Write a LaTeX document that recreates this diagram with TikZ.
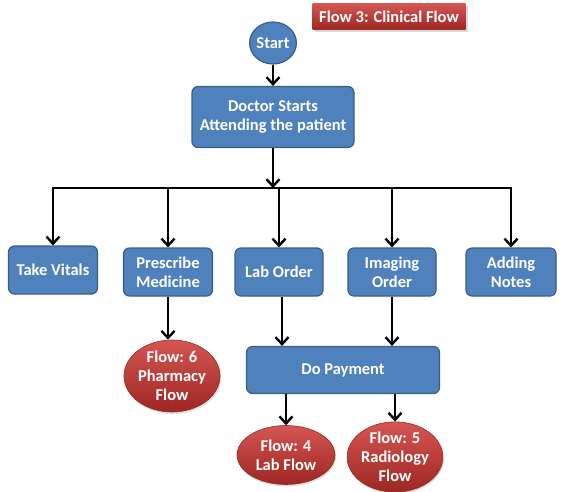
\documentclass[tikz,border=0pt]{standalone}
\usepackage{fontspec}
\setmainfont{Carlito}
\usetikzlibrary{arrows.meta,shapes.geometric,shadows}
\definecolor{taskblue}{RGB}{79,129,189}
\definecolor{taskline}{RGB}{56,93,138}
\definecolor{flowtop}{RGB}{212,86,82}
\definecolor{flowbot}{RGB}{158,38,35}
\definecolor{flowline}{RGB}{150,45,42}

\begin{document}
\begin{tikzpicture}[x=1pt,y=-1pt,
    every node/.style={font=\bfseries\fontsize{16.5}{19}\selectfont,text=white,align=center},
    taskbox/.style={draw=taskline,line width=1.2pt,fill=taskblue,rounded corners=6pt,inner sep=0pt},
    flowoval/.style={ellipse,draw=flowline,line width=0.6pt,top color=flowtop,bottom color=flowbot,
                     inner sep=0pt,drop shadow={opacity=0.25,shadow xshift=1pt,shadow yshift=-2pt}},
    arr/.style={line width=2.7pt,-{Straight Barb[length=7pt,width=13pt,line width=2.4pt]}}]
  \useasboundingbox (0,0) rectangle (565,492);

  % title ----------------------------------------------------------------------
  \node[top color=flowtop,bottom color=flowbot,minimum width=153pt,minimum height=26pt,inner sep=0pt,
        drop shadow={opacity=0.3,shadow xshift=2pt,shadow yshift=-2pt}]
        (title) at (389,17) {Flow 3: Clinical Flow};

  % start and doctor -----------------------------------------------------------
  \node[ellipse,draw=taskline,line width=1.2pt,fill=taskblue,minimum width=46pt,minimum height=42pt,inner sep=0pt]
        (start) at (273,43) {Start};
  \node[taskbox,minimum width=162pt,minimum height=61pt] (doc) at (273,117)
        {Doctor Starts\\Attending the patient};

  %----------------------------------------------------------------------------%
  %  the five tasks  -----------------------------------------------------------%
  \node[taskbox,minimum width=89pt,minimum height=48pt] (vit) at (53,270) {Take Vitals};
  \node[taskbox,minimum width=89pt,minimum height=48pt] (med) at (168,272) {Prescribe\\Medicine};
  \node[taskbox,minimum width=88pt,minimum height=48pt] (lab) at (279,272) {Lab Order};
  \node[taskbox,minimum width=88pt,minimum height=48pt] (img) at (392,272) {Imaging\\Order};
  \node[taskbox,minimum width=90pt,minimum height=48pt] (note) at (511,272) {Adding\\Notes};

  % payment and flows ----------------------------------------------------------
  \node[taskbox,minimum width=193pt,minimum height=47pt] (pay) at (343,370) {Do Payment};
  \node[flowoval,minimum width=90pt,minimum height=72pt] (pharm) at (172,376) {Flow: 6\\Pharmacy\\Flow};
  \node[flowoval,minimum width=98pt,minimum height=59pt] (labf) at (286,455) {Flow: 4\\Lab Flow};
  \node[flowoval,minimum width=94pt,minimum height=62pt] (radf) at (395,457) {Flow: 5\\Radiology\\Flow};

  %----------------------------------------------------------------------------%
  %  connectors  ---------------------------------------------------------------%
  \coordinate (bus) at (273,188);
  \draw[arr] (start) -- (doc);
  \draw[arr] (doc.south) -- (bus);
  \draw[line width=2.7pt,line cap=rect] (vit.north |- bus) -- (note.north |- bus);
  \foreach \t in {vit,med,lab,img,note}
    \draw[arr] (\t.north |- bus) -- (\t.north);
  \draw[arr] (med.south) -- (med.south |- pharm.north);
  \draw[arr] ([xshift=3pt]lab.south) -- ([xshift=3pt]lab.south |- pay.north);
  \draw[arr] (img.south) -- (img.south |- pay.north);
  \draw[arr] (pay.south -| labf.north) -- (labf.north);
  \draw[arr] (pay.south -| radf.north) -- (radf.north);
\end{tikzpicture}
\end{document}
